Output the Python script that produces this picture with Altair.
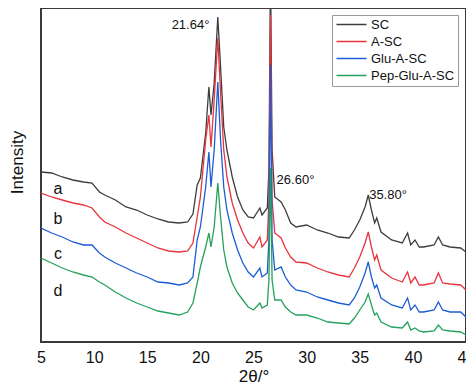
import altair as alt
import pandas as pd

# 2-theta positions (degrees)
two_theta = [5, 6, 7, 8, 9, 9.8, 10.5, 11, 12, 13, 14, 15, 16, 17, 18, 18.8, 19.3, 19.7, 20.0,
             20.5, 20.8, 21.0, 21.3, 21.64, 21.9, 22.2, 22.5, 23, 23.5, 24, 24.5, 25, 25.6, 25.8,
             26.3, 26.45, 26.6, 26.75, 27, 27.6, 28, 28.5, 29, 30, 31, 32, 33, 34, 34.5, 35, 35.5,
             35.8, 36.1, 36.4, 36.6, 37, 38, 39, 39.5, 39.8, 40.2, 40.6, 41, 42, 42.4, 42.8, 43.5,
             44.5, 45]

# intensities (a.u., curves offset as in the figure)
sc = [170, 169, 165, 162, 160, 159, 150, 147, 142, 135, 132, 127, 123, 120, 119, 120, 128, 157, 164,
      209, 255, 227, 259, 325, 275, 215, 192, 165, 145, 132, 125, 124, 134, 127,
      134, 172, 372, 192, 145, 140, 132, 119, 115, 117, 112, 109, 105, 104, 112, 122, 135,
      147, 132, 119, 124, 110, 102, 99, 109, 97, 102, 95, 95, 97, 105, 97, 95,
      94, 90]
a_sc = [149, 145, 142, 139, 137, 134, 125, 120, 115, 109, 104, 99, 94, 91, 90, 91, 99, 125, 145,
        202, 227, 195, 242, 304, 249, 192, 165, 139, 122, 109, 99, 94, 105, 95,
        102, 142, 327, 142, 109, 104, 94, 85, 80, 79, 74, 70, 67, 65, 74, 85, 99,
        110, 95, 82, 87, 72, 64, 60, 70, 59, 65, 57, 57, 59, 69, 59, 58,
        57, 52]
glu_a_sc = [114, 109, 105, 100, 97, 97, 89, 85, 79, 74, 69, 65, 60, 59, 57, 59, 65, 102, 115,
            155, 190, 155, 192, 260, 202, 155, 132, 109, 92, 79, 70, 65, 74, 65,
            69, 102, 277, 102, 72, 75, 65, 57, 52, 50, 45, 42, 39, 37, 44, 55, 69,
            80, 65, 54, 57, 44, 37, 34, 44, 32, 37, 30, 30, 32, 40, 32, 30,
            30, 25]
pep_glu_a_sc = [84, 79, 74, 70, 67, 65, 60, 57, 50, 44, 39, 35, 31, 29, 27, 30, 39, 59, 75,
                95, 109, 95, 115, 159, 125, 92, 75, 59, 49, 42, 35, 32, 39, 34,
                37, 62, 174, 62, 42, 42, 35, 30, 27, 27, 24, 20, 19, 18, 24, 32, 40,
                48, 37, 27, 29, 20, 15, 14, 20, 12, 14, 11, 10, 11, 17, 12, 11,
                10, 7]

series_names = ["SC", "A-SC", "Glu-A-SC", "Pep-Glu-A-SC"]
series_values = [sc, a_sc, glu_a_sc, pep_glu_a_sc]
series_colors = ["#3d3d3d", "#e8343d", "#1d5cd6", "#24a15b"]

# annotations
peak_labels = ["21.64°", "26.60°", "35.80°"]
peak_x = [19.07, 28.95, 37.66]
peak_y = [317, 162, 147]
curve_labels = ["a", "b", "c", "d"]
curve_x = [6.6, 6.6, 6.6, 6.6]
curve_y = [153, 123, 88, 51]

rows = []
for name, vals in zip(series_names, series_values):
    for t, v in zip(two_theta, vals):
        rows.append({"theta": t, "intensity": v, "sample": name})
df = pd.DataFrame(rows)

xscale = alt.Scale(domain=[5, 45], nice=False, zero=False)
yscale = alt.Scale(domain=[0, 334], nice=False, zero=False)
cscale = alt.Scale(domain=series_names, range=series_colors)

layers = []
for name in series_names:
    layers.append(
        alt.Chart(df).transform_filter(alt.datum.sample == name)
        .mark_line(strokeWidth=1.3, clip=True)
        .encode(
            x=alt.X("theta:Q", scale=xscale,
                    axis=alt.Axis(values=[5, 10, 15, 20, 25, 30, 35, 40, 45], title="2θ/°",
                                  labelFontSize=16, labelPadding=7, titleFontSize=17,
                                  titleFontWeight="normal", titleY=26, titleBaseline="top",
                                  ticks=False, domain=False, grid=False, labelFlush=False,
                                  labelColor="#111", titleColor="#111")),
            y=alt.Y("intensity:Q", scale=yscale,
                    axis=alt.Axis(title="Intensity", labels=False, ticks=False, domain=False,
                                  grid=False, titleFontSize=17, titleFontWeight="normal",
                                  titleX=-24, titleY=154, titleAngle=270, titleAlign="center",
                                  titleBaseline="middle", titleColor="#111")),
            color=alt.Color("sample:N", scale=cscale,
                            legend=alt.Legend(title=None, orient="none", legendX=291, legendY=7,
                                              strokeColor="#999", padding=3,
                                              symbolType="M-3,0H3", symbolSize=100,
                                              symbolOffset=10, symbolStrokeWidth=1.5,
                                              labelFontSize=13, labelOffset=13, rowPadding=3,
                                              labelColor="#111", fillColor="white")),
        )
    )

peaks_df = pd.DataFrame({"label": peak_labels, "x": peak_x, "y": peak_y})
curves_df = pd.DataFrame({"label": curve_labels, "x": curve_x, "y": curve_y})

peak_text = alt.Chart(peaks_df).mark_text(fontSize=13, color="#111", align="center",
                                          baseline="middle").encode(
    x=alt.X("x:Q", scale=xscale), y=alt.Y("y:Q", scale=yscale), text="label:N")
curve_text = alt.Chart(curves_df).mark_text(fontSize=16, color="#111", align="center",
                                            baseline="middle").encode(
    x=alt.X("x:Q", scale=xscale), y=alt.Y("y:Q", scale=yscale), text="label:N")

chart = alt.layer(*layers, peak_text, curve_text).properties(
    width=425, height=334,
    padding={"left": 33, "top": 0, "right": 0, "bottom": 40},
    autosize=alt.AutoSizeParams(type="none"),
).configure(font="Liberation Sans").configure_view(
    stroke="#3a3a3a", strokeWidth=2
)

chart.save("out.html", embed_options={"renderer": "svg", "actions": False})
